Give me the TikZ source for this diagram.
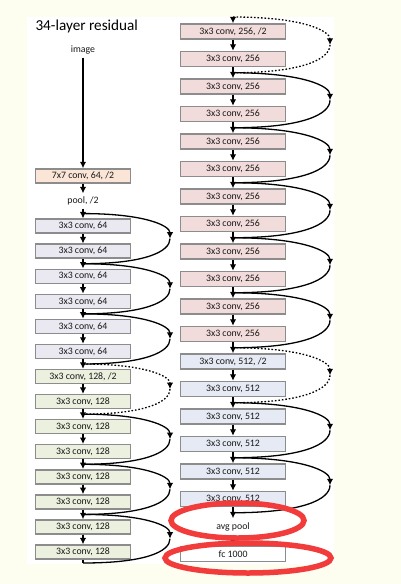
\documentclass[tikz,border=0pt]{standalone}
\usepackage{fontspec}
\setmainfont{Carlito}
\usetikzlibrary{arrows.meta,matrix,calc}

\definecolor{bgcream}{HTML}{FDFDF0}
\definecolor{boxgray}{HTML}{8C8C8C}
\definecolor{peach}{HTML}{FBE5D6}
\definecolor{lilac}{HTML}{EAE8F1}
\definecolor{sage}{HTML}{EBF1DE}
\definecolor{rose}{HTML}{F2DCDB}
\definecolor{steel}{HTML}{E5EAF4}
\definecolor{ringred}{HTML}{F23B3B}

\begin{document}
\begin{tikzpicture}[x=1pt, y=-1pt,
font=\fontsize{9.8}{11}\selectfont, text=black!90,
>={Latex[length=6.5pt,width=6.5pt]},
flow/.style={->, line width=1.3pt},
skip/.style={line width=1.3pt},
proj/.style={line width=1.3pt, dash pattern=on 1.6pt off 1.9pt},
c7/.style={fill=peach}, c64/.style={fill=lilac}, c128/.style={fill=sage},
c256/.style={fill=rose}, c512/.style={fill=steel}, cfc/.style={fill=white},
plain/.style={draw=none, fill=none},
redring/.style={draw=ringred, line width=5.5pt},
column/.style={
    matrix of nodes,
    nodes={draw=boxgray, line width=1.4pt, inner sep=0pt, anchor=center},
},
colL/.style={column, nodes={minimum width=95pt, minimum height=14pt},
    row sep={25.07pt,between origins}},
colR/.style={column, nodes={minimum width=105pt, minimum height=15pt},
    row sep={27.5pt,between origins}},
]
\useasboundingbox (0,0) rectangle (401,584);
\fill[bgcream] (0,0) rectangle (401,584);
\fill[white] (27,17) rectangle (334,564);

\node[anchor=base west, font=\fontsize{15.2}{18}\selectfont, text=black] (title) at (32,30) {34-layer residual};

% left stem: conv1, pool, conv2_x, conv3_x
\matrix[colL] (lcol) at (83,364) {
  |[c7]| 7x7 conv, 64, /2 \\
  |[plain]| pool, /2 \\
  |[c64]| 3x3 conv, 64 \\
  |[c64]| 3x3 conv, 64 \\
  |[c64]| 3x3 conv, 64 \\
  |[c64]| 3x3 conv, 64 \\
  |[c64]| 3x3 conv, 64 \\
  |[c64]| 3x3 conv, 64 \\
  |[c128]| 3x3 conv, 128, /2 \\
  |[c128]| 3x3 conv, 128 \\
  |[c128]| 3x3 conv, 128 \\
  |[c128]| 3x3 conv, 128 \\
  |[c128]| 3x3 conv, 128 \\
  |[c128]| 3x3 conv, 128 \\
  |[c128]| 3x3 conv, 128 \\
  |[c128]| 3x3 conv, 128 \\
};

% right stem: conv4_x, conv5_x, head
\matrix[colR] (rcol) at (233,292.75) {
  |[c256]| 3x3 conv, 256, /2 \\
  |[c256]| 3x3 conv, 256 \\
  |[c256]| 3x3 conv, 256 \\
  |[c256]| 3x3 conv, 256 \\
  |[c256]| 3x3 conv, 256 \\
  |[c256]| 3x3 conv, 256 \\
  |[c256]| 3x3 conv, 256 \\
  |[c256]| 3x3 conv, 256 \\
  |[c256]| 3x3 conv, 256 \\
  |[c256]| 3x3 conv, 256 \\
  |[c256]| 3x3 conv, 256 \\
  |[c256]| 3x3 conv, 256 \\
  |[c512]| 3x3 conv, 512, /2 \\
  |[c512]| 3x3 conv, 512 \\
  |[c512]| 3x3 conv, 512 \\
  |[c512]| 3x3 conv, 512 \\
  |[c512]| 3x3 conv, 512 \\
  |[c512]| 3x3 conv, 512 \\
  |[plain]| avg pool \\
  |[cfc]| fc 1000 \\
};

\node (img) [above of=lcol-1-1, node distance=126pt] {image};

% junctions where the shortcuts leave and join
\foreach \i [evaluate=\i as \j using int(\i+1)] in {2,4,...,14}
  \coordinate (lj\i) at ($(lcol-\i-1.south)!.5!(lcol-\j-1.north)$);
\coordinate (lj16) at (83,563);
\coordinate (rj0) at (233,17);
\foreach \i [evaluate=\i as \j using int(\i+1)] in {2,4,...,18}
  \coordinate (rj\i) at ($(rcol-\i-1.south)!.5!(rcol-\j-1.north)$);

% main flow
\draw[flow] (img) -- (lcol-1-1);
\foreach \i [count=\j from 2] in {1,...,15}
  \draw[flow] (lcol-\i-1) -- (lcol-\j-1);
\draw[skip] (lcol-16-1) -- (lj16);
\draw[flow] (rj0) -- (rcol-1-1);
\foreach \i [count=\j from 2] in {1,...,19}
  \draw[flow] (rcol-\i-1) -- (rcol-\j-1);

% shortcuts
\foreach \a/\b/\k in {2/4/skip, 4/6/skip, 6/8/skip, 8/10/proj, 10/12/skip, 12/14/skip, 14/16/skip} {
  \coordinate (m) at ($(lj\a)!.5!(lj\b)+(87,0)$);
  \draw[\k,->] (lj\a) .. controls +(62,0) and +(0,-13) .. (m);
  \draw[\k] (m) .. controls +(0,13) and +(62,0) .. (lj\b);
}
\foreach \a/\b/\k in {0/2/proj, 2/4/skip, 4/6/skip, 6/8/skip, 8/10/skip, 10/12/skip, 12/14/proj, 14/16/skip, 16/18/skip} {
  \coordinate (m) at ($(rj\a)!.5!(rj\b)+(97,0)$);
  \draw[\k,->] (rj\a) .. controls +(70,0) and +(0,-14) .. (m);
  \draw[\k] (m) .. controls +(0,14) and +(70,0) .. (rj\b);
}

\draw[redring] (237.5,520.5) ellipse [x radius=66.5pt, y radius=17.5pt];
\draw[redring] (248,558) ellipse [x radius=83pt, y radius=15pt];
\end{tikzpicture}
\end{document}
